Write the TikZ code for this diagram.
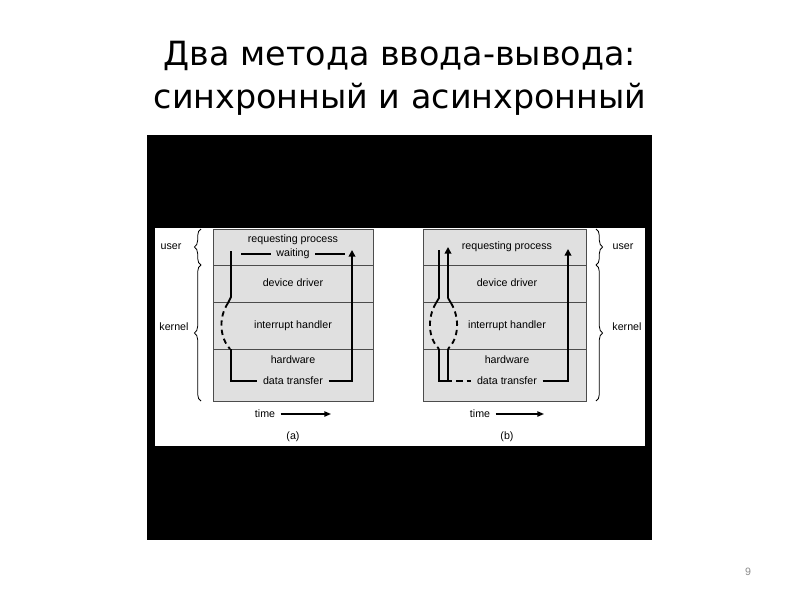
\documentclass[tikz,border=0pt]{standalone}
\usepackage{fontspec}
\setmainfont{Liberation Sans}
\newfontfamily\titlefont{DejaVu Sans}
\usetikzlibrary{decorations.pathreplacing,arrows.meta}
\begin{document}
\begin{tikzpicture}[x=0.75pt,y=-0.75pt,
  lbl/.style={font=\fontsize{8}{9}\selectfont,inner sep=1pt},
  gap/.style={lbl,inner xsep=4pt},
  flow/.style={line width=1.4pt},
  arr/.style={line width=1.4pt,-{Triangle[length=5pt,width=5pt]}},
  dsh/.style={line width=1.4pt,dash pattern=on 4pt off 3pt},
  brc/.style={decorate,decoration={brace,amplitude=5pt},line width=0.6pt},
  box/.style={fill=black!12,draw=black!70,line width=0.6pt}]
\useasboundingbox (0,0) rectangle (800,600);
\fill[white] (0,0) rectangle (800,600);
\node (t1) at (400,56) {\titlefont\fontsize{25}{30}\selectfont Два метода ввода-вывода:};
\node (t2) at (400,99) {\titlefont\fontsize{25}{30}\selectfont синхронный и асинхронный};
\fill[black] (147,135) rectangle (652,540);
\fill[white] (155,228) rectangle (645,446);
% (a)
\draw[box] (213,229) rectangle (373,401);
\foreach \y in {265,302,349} \draw[black!70,line width=0.6pt] (213,\y)--(373,\y);
\node[lbl] (ra) at (293,240) {requesting process};
\node[gap] (wa) at (293,254) {waiting};
\node[lbl] (da) at (293,283) {device driver};
\node[lbl] (ia) at (293,326) {interrupt handler};
\node[lbl] (ha) at (293,360) {hardware};
\node[gap] (xa) at (293,381) {data transfer};
\draw[flow] (241,254)--(wa.west);
\draw[flow] (wa.east)--(345,254);
\draw[flow] (231,251)--(231,297)--(228,303);
\draw[dsh] (228,303) .. controls (218,318) and (220,338) .. (230,349);
\draw[flow] (231,349)--(231,381)--(xa.west);
\draw[arr] (xa.east)--(352,381)--(352,250);
\draw[brc] (201,265)--(201,229);
\draw[brc] (201,401)--(201,265);
\node[lbl] (ua) at (171,247) {user};
\node[lbl] (ka) at (174,327) {kernel};
\node[lbl] (tma) at (265,414) {time};
\coordinate (tea) at (331,414);
\draw[line width=1pt,-{Triangle[length=5pt,width=4pt]}] (tma.east)++(4,0)--(tea);
\node[font=\fontsize{8}{9}\selectfont\rmfamily] (ca) at (293,437) {(a)};
% (b)
\draw[box] (423,229) rectangle (586,401);
\foreach \y in {265,302,349} \draw[black!70,line width=0.6pt] (423,\y)--(586,\y);
\node[lbl] (rb) at (507,247) {requesting process};
\node[lbl] (db) at (507,283) {device driver};
\node[lbl] (ib) at (507,326) {interrupt handler};
\node[lbl] (hb) at (507,360) {hardware};
\node[gap] (xb) at (507,381) {data transfer};
\draw[flow] (439,250)--(439,298)--(436,303);
\draw[arr] (448,298)--(448,247);
\draw[flow] (448,298)--(451,303);
\draw[dsh] (436,303) .. controls (427,318) and (428,338) .. (439,349);
\draw[dsh] (451,303) .. controls (460,318) and (459,338) .. (448,349);
\draw[flow] (448,349)--(448,381);
\draw[flow] (439,349)--(439,381)--(452,381);
\coordinate (dstart) at (456,381);
\draw[line width=1.4pt,dash pattern=on 5pt off 3pt] (dstart)--(xb.west);
\draw[arr] (xb.east)--(568,381)--(568,249);
\draw[brc] (596,229)--(596,265);
\draw[brc] (596,265)--(596,401);
\node[lbl] (ub) at (623,247) {user};
\node[lbl] (kb) at (627,327) {kernel};
\node[lbl] (tmb) at (480,414) {time};
\coordinate (teb) at (544,414);
\draw[line width=1pt,-{Triangle[length=5pt,width=4pt]}] (tmb.east)++(4,0)--(teb);
\node[font=\fontsize{8}{9}\selectfont\rmfamily] (cb) at (507,437) {(b)};
\node[text=black!45,font=\fontsize{8}{9}\selectfont] (pg) at (748,572) {9};
\end{tikzpicture}
\end{document}
